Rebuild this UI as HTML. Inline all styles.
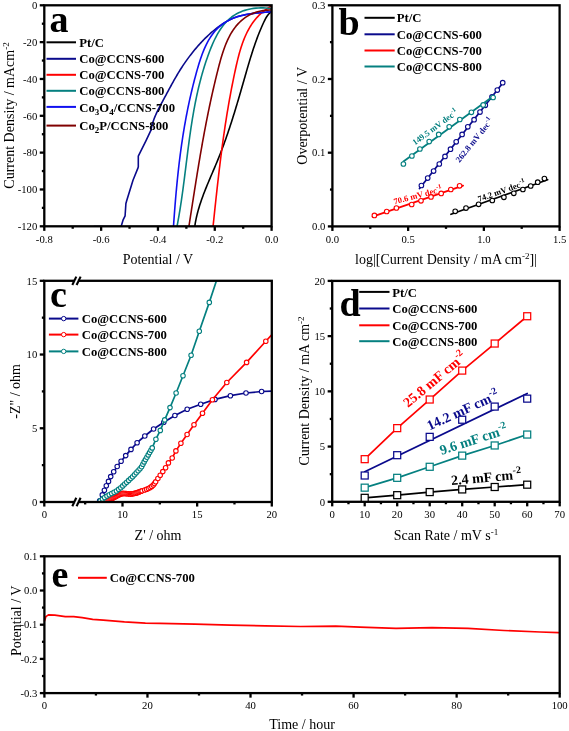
<!DOCTYPE html><html><head><meta charset="utf-8"><style>html,body{margin:0;padding:0;background:#fff;}svg{display:block;will-change:transform;}text{font-family:"Liberation Serif",serif;}</style></head><body>
<svg width="569" height="731" viewBox="0 0 569 731">
<rect width="569" height="731" fill="#fff"/>
<clipPath id="ca"><rect x="44.3" y="5.3" width="227.3" height="221"/></clipPath>
<g clip-path="url(#ca)">
<polyline points="94,226.3 121.3,226.3" fill="none" stroke="#0a0a8c" stroke-width="1.2" stroke-linejoin="round" stroke-linecap="round"/>
<polyline points="194.55,227.98 194.82,226.04 195.12,224.12 195.45,222.21 195.81,220.3 196.2,218.4 196.62,216.51 197.07,214.63 197.55,212.75 198.05,210.89 198.57,209.02 199.12,207.17 199.69,205.32 200.29,203.48 200.9,201.64 201.53,199.81 202.18,197.98 202.84,196.16 203.52,194.34 204.22,192.52 204.92,190.71 205.64,188.9 206.37,187.1 207.1,185.3 207.85,183.49 208.6,181.7 209.36,179.9 210.12,178.1 210.88,176.31 211.65,174.52 212.42,172.72 213.18,170.93 213.95,169.14 214.71,167.34 215.47,165.55 216.22,163.75 216.97,161.95 217.71,160.16 218.44,158.35 219.16,156.55 219.88,154.75 220.58,152.94 221.28,151.13 221.97,149.32 222.65,147.5 223.33,145.69 223.99,143.87 224.65,142.05 225.31,140.23 225.95,138.4 226.59,136.58 227.23,134.75 227.85,132.92 228.47,131.08 229.09,129.25 229.7,127.41 230.3,125.58 230.9,123.74 231.5,121.9 232.09,120.05 232.67,118.21 233.25,116.36 233.83,114.51 234.41,112.66 234.97,110.81 235.54,108.95 236.1,107.1 236.66,105.24 237.22,103.38 237.77,101.52 238.33,99.66 238.87,97.79 239.42,95.92 239.97,94.06 240.51,92.19 241.05,90.32 241.59,88.44 242.13,86.57 242.67,84.69 243.21,82.82 243.75,80.94 244.29,79.06 244.83,77.17 245.36,75.29 245.9,73.41 246.45,71.52 246.99,69.64 247.54,67.76 248.09,65.88 248.64,64 249.2,62.12 249.76,60.25 250.33,58.38 250.91,56.51 251.49,54.65 252.08,52.79 252.68,50.93 253.28,49.08 253.9,47.24 254.52,45.4 255.16,43.57 255.8,41.74 256.46,39.93 257.12,38.12 257.8,36.32 258.5,34.52 259.2,32.74 259.92,30.97 260.66,29.2 261.41,27.45 262.17,25.71 262.95,23.98 263.75,22.26 264.57,20.55 265.42,18.87 266.34,17.25 267.36,15.71 268.5,14.27 269.81,12.97 271.3,11.82" fill="none" stroke="#000" stroke-width="1.6" stroke-linejoin="round" stroke-linecap="round"/>
<polyline points="121.2,228 121.2,226.3 123,220.2 125.1,215.8 125.9,203.5 126.9,200 133,180.2 137.8,168.4 138.3,166.7 138.3,156.2 139.8,153.2 145.8,141.1 151.1,129.8" fill="none" stroke="#0a0a8c" stroke-width="1.6" stroke-linejoin="round" stroke-linecap="round"/>
<polyline points="151.06,129.79 151.34,128.27 151.66,126.78 152.02,125.29 152.42,123.82 152.86,122.36 153.34,120.91 153.85,119.48 154.4,118.05 154.97,116.63 155.56,115.22 156.19,113.83 156.83,112.44 157.49,111.05 158.17,109.68 158.86,108.3 159.57,106.94 160.29,105.58 161.01,104.22 161.74,102.87 162.47,101.53 163.2,100.18 163.93,98.84 164.66,97.49 165.38,96.15 166.1,94.82 166.82,93.48 167.53,92.14 168.25,90.81 168.97,89.48 169.68,88.15 170.4,86.82 171.13,85.5 171.85,84.18 172.58,82.85 173.31,81.54 174.05,80.22 174.8,78.91 175.55,77.6 176.31,76.29 177.07,74.98 177.85,73.68 178.64,72.38 179.43,71.09 180.24,69.79 181.06,68.5 181.89,67.22 182.73,65.93 183.58,64.66 184.45,63.38 185.32,62.12 186.21,60.85 187.1,59.6 188.01,58.35 188.93,57.1 189.86,55.87 190.8,54.64 191.75,53.42 192.71,52.2 193.68,51 194.66,49.81 195.66,48.62 196.66,47.44 197.67,46.28 198.7,45.12 199.73,43.98 200.77,42.85 201.83,41.72 202.89,40.62 203.96,39.52 205.05,38.43 206.14,37.36 207.24,36.31 208.35,35.26 209.48,34.23 210.61,33.22 211.75,32.22 212.9,31.24 214.06,30.27 215.23,29.32 216.41,28.38 217.6,27.46 218.8,26.56 220,25.69 221.23,24.83 222.46,23.99 223.71,23.18 224.97,22.4 226.25,21.65 227.54,20.92 228.86,20.23 230.19,19.56 231.54,18.94 232.91,18.34 234.3,17.79 235.72,17.27 237.15,16.79 238.61,16.35 240.08,15.94 241.56,15.56 243.06,15.22 244.57,14.89 246.09,14.59 247.62,14.32 249.15,14.06 250.69,13.82 252.23,13.6 253.77,13.4 255.31,13.21 256.85,13.03 258.38,12.87 259.92,12.71 261.45,12.57 262.97,12.43 264.49,12.31 266,12.19 267.5,12.07 269,11.96 270.48,11.85 271.95,11.75" fill="none" stroke="#0a0a8c" stroke-width="1.6" stroke-linejoin="round" stroke-linecap="round"/>
<polyline points="212.89,228.03 213.1,226.04 213.3,224.04 213.51,222.05 213.72,220.06 213.93,218.07 214.14,216.08 214.35,214.1 214.56,212.11 214.77,210.13 214.98,208.15 215.19,206.17 215.41,204.19 215.62,202.21 215.83,200.23 216.04,198.26 216.26,196.28 216.48,194.31 216.69,192.34 216.91,190.37 217.13,188.4 217.35,186.43 217.57,184.46 217.79,182.49 218.02,180.52 218.24,178.56 218.47,176.59 218.7,174.63 218.93,172.67 219.16,170.7 219.39,168.74 219.63,166.78 219.87,164.82 220.11,162.86 220.35,160.9 220.6,158.94 220.84,156.98 221.09,155.02 221.34,153.06 221.6,151.11 221.86,149.15 222.12,147.19 222.38,145.23 222.64,143.28 222.91,141.32 223.18,139.37 223.46,137.41 223.74,135.45 224.02,133.5 224.3,131.54 224.59,129.59 224.88,127.63 225.17,125.67 225.47,123.72 225.77,121.76 226.08,119.8 226.39,117.85 226.7,115.89 227.02,113.93 227.34,111.97 227.67,110.02 228,108.06 228.33,106.1 228.67,104.14 229.01,102.18 229.36,100.22 229.71,98.26 230.07,96.29 230.43,94.33 230.79,92.37 231.17,90.41 231.54,88.44 231.92,86.48 232.31,84.51 232.7,82.54 233.1,80.57 233.5,78.61 233.9,76.64 234.32,74.66 234.74,72.69 235.16,70.72 235.59,68.75 236.02,66.77 236.47,64.8 236.92,62.83 237.39,60.86 237.87,58.9 238.36,56.94 238.87,55 239.4,53.06 239.95,51.13 240.52,49.21 241.11,47.31 241.73,45.42 242.37,43.55 243.04,41.69 243.74,39.86 244.48,38.04 245.24,36.24 246.04,34.47 246.87,32.72 247.74,31 248.66,29.3 249.61,27.63 250.6,25.99 251.64,24.38 252.72,22.8 253.85,21.26 255.03,19.75 256.26,18.27 257.55,16.84 258.88,15.44 260.27,14.08 261.72,12.77 263.23,11.5 264.8,10.27 266.42,9.08 268.12,7.95 269.87,6.86 271.7,5.82" fill="none" stroke="#ff0000" stroke-width="1.6" stroke-linejoin="round" stroke-linecap="round"/>
<polyline points="176.71,227.9 177.14,225.73 177.55,223.57 177.95,221.4 178.35,219.22 178.73,217.05 179.11,214.87 179.47,212.69 179.83,210.51 180.18,208.33 180.53,206.14 180.86,203.96 181.19,201.77 181.51,199.58 181.83,197.39 182.14,195.19 182.45,193 182.75,190.8 183.05,188.61 183.34,186.41 183.63,184.21 183.92,182.01 184.2,179.81 184.48,177.61 184.76,175.41 185.04,173.2 185.31,171 185.59,168.8 185.86,166.59 186.14,164.39 186.41,162.19 186.69,159.98 186.96,157.78 187.24,155.58 187.52,153.37 187.8,151.17 188.08,148.97 188.37,146.76 188.66,144.56 188.95,142.36 189.24,140.16 189.55,137.96 189.85,135.76 190.16,133.56 190.48,131.36 190.8,129.17 191.13,126.97 191.46,124.78 191.81,122.59 192.16,120.4 192.51,118.21 192.88,116.02 193.25,113.84 193.64,111.65 194.03,109.47 194.43,107.29 194.84,105.11 195.26,102.94 195.7,100.76 196.14,98.59 196.6,96.42 197.06,94.26 197.55,92.09 198.04,89.93 198.54,87.78 199.06,85.62 199.6,83.47 200.14,81.32 200.71,79.17 201.28,77.03 201.88,74.89 202.48,72.75 203.11,70.62 203.75,68.49 204.41,66.36 205.08,64.24 205.77,62.12 206.48,60 207.21,57.89 207.96,55.79 208.73,53.68 209.52,51.58 210.32,49.49 211.15,47.41 212.01,45.34 212.9,43.29 213.81,41.26 214.77,39.25 215.75,37.28 216.78,35.34 217.85,33.43 218.96,31.57 220.12,29.75 221.33,27.98 222.59,26.26 223.91,24.59 225.28,22.99 226.72,21.45 228.21,19.98 229.77,18.59 231.4,17.26 233.1,16.02 234.87,14.86 236.71,13.78 238.63,12.8 240.61,11.9 242.65,11.09 244.75,10.37 246.9,9.74 249.11,9.2 251.35,8.75 253.64,8.39 255.96,8.13 258.31,7.96 260.69,7.88 263.09,7.9 265.51,8.01 267.94,8.22 270.38,8.53 272.83,8.93" fill="none" stroke="#058080" stroke-width="1.6" stroke-linejoin="round" stroke-linecap="round"/>
<polyline points="173.38,228.05 173.53,225.8 173.69,223.55 173.85,221.31 174.01,219.07 174.17,216.82 174.33,214.59 174.5,212.35 174.67,210.11 174.85,207.88 175.02,205.65 175.2,203.42 175.39,201.19 175.57,198.96 175.76,196.73 175.96,194.51 176.15,192.29 176.36,190.07 176.56,187.85 176.77,185.63 176.99,183.41 177.21,181.2 177.43,178.98 177.66,176.77 177.89,174.56 178.13,172.35 178.37,170.14 178.62,167.93 178.87,165.72 179.13,163.52 179.4,161.31 179.67,159.11 179.95,156.91 180.23,154.71 180.52,152.51 180.81,150.31 181.11,148.11 181.42,145.91 181.74,143.72 182.06,141.52 182.39,139.33 182.72,137.13 183.07,134.94 183.42,132.75 183.77,130.56 184.14,128.37 184.51,126.18 184.89,123.99 185.28,121.8 185.68,119.61 186.08,117.42 186.49,115.24 186.92,113.05 187.35,110.86 187.78,108.68 188.23,106.49 188.69,104.31 189.15,102.12 189.63,99.94 190.11,97.76 190.61,95.57 191.11,93.39 191.62,91.21 192.15,89.02 192.68,86.84 193.22,84.66 193.78,82.48 194.34,80.3 194.92,78.11 195.5,75.93 196.1,73.75 196.7,71.57 197.32,69.39 197.95,67.21 198.59,65.03 199.26,62.86 199.94,60.69 200.65,58.54 201.38,56.41 202.15,54.29 202.95,52.19 203.78,50.12 204.66,48.07 205.57,46.05 206.54,44.06 207.55,42.11 208.62,40.2 209.74,38.32 210.92,36.49 212.16,34.71 213.47,32.97 214.84,31.3 216.29,29.69 217.81,28.15 219.4,26.68 221.07,25.3 222.8,23.99 224.6,22.76 226.45,21.61 228.37,20.53 230.34,19.54 232.35,18.63 234.42,17.79 236.52,17.04 238.67,16.36 240.84,15.75 243.05,15.21 245.27,14.73 247.52,14.3 249.77,13.92 252.04,13.59 254.3,13.3 256.57,13.04 258.82,12.81 261.06,12.61 263.29,12.43 265.49,12.25 267.66,12.09 269.8,11.93 271.9,11.77" fill="none" stroke="#1010f0" stroke-width="1.6" stroke-linejoin="round" stroke-linecap="round"/>
<polyline points="188.63,228.07 188.97,225.96 189.3,223.86 189.63,221.75 189.96,219.65 190.28,217.55 190.61,215.46 190.94,213.36 191.27,211.27 191.59,209.19 191.92,207.1 192.24,205.02 192.57,202.93 192.89,200.85 193.22,198.78 193.54,196.7 193.87,194.63 194.19,192.56 194.52,190.49 194.85,188.42 195.17,186.35 195.5,184.28 195.83,182.22 196.16,180.16 196.49,178.1 196.82,176.04 197.16,173.98 197.49,171.92 197.83,169.86 198.17,167.81 198.51,165.75 198.85,163.7 199.19,161.65 199.53,159.6 199.88,157.54 200.23,155.49 200.58,153.44 200.93,151.39 201.29,149.34 201.65,147.29 202.01,145.25 202.37,143.2 202.74,141.15 203.11,139.1 203.48,137.05 203.86,135 204.24,132.95 204.62,130.9 205.01,128.86 205.4,126.81 205.79,124.76 206.19,122.71 206.59,120.65 206.99,118.6 207.4,116.55 207.81,114.5 208.23,112.44 208.65,110.39 209.08,108.33 209.51,106.27 209.94,104.22 210.38,102.16 210.83,100.1 211.27,98.04 211.73,95.97 212.19,93.91 212.65,91.84 213.12,89.77 213.6,87.71 214.08,85.63 214.57,83.56 215.06,81.49 215.56,79.41 216.06,77.33 216.57,75.25 217.09,73.17 217.61,71.09 218.14,69 218.68,66.91 219.22,64.82 219.78,62.74 220.35,60.66 220.94,58.59 221.55,56.53 222.17,54.48 222.82,52.45 223.49,50.44 224.19,48.44 224.92,46.47 225.68,44.52 226.47,42.59 227.3,40.7 228.17,38.84 229.07,37.01 230.02,35.22 231.02,33.46 232.05,31.75 233.14,30.08 234.28,28.46 235.47,26.88 236.72,25.35 238.02,23.88 239.38,22.46 240.8,21.1 242.28,19.81 243.83,18.58 245.44,17.41 247.11,16.33 248.85,15.31 250.67,14.38 252.55,13.52 254.5,12.76 256.52,12.08 258.62,11.49 260.8,10.99 263.05,10.59 265.38,10.3 267.8,10.11 270.29,10.02 272.87,10.05" fill="none" stroke="#800000" stroke-width="1.6" stroke-linejoin="round" stroke-linecap="round"/>
</g>
<rect x="44.3" y="5.3" width="227.3" height="221" fill="none" stroke="#000" stroke-width="2.3"/>
<line x1="44.3" y1="226.3" x2="44.3" y2="230.85" stroke="#000" stroke-width="2.3"/>
<text x="44.3" y="242.6" font-size="10.7" text-anchor="middle" font-weight="normal" fill="#000">-0.8</text>
<line x1="72.71" y1="226.3" x2="72.71" y2="228.75" stroke="#000" stroke-width="2.3"/>
<line x1="101.13" y1="226.3" x2="101.13" y2="230.85" stroke="#000" stroke-width="2.3"/>
<text x="101.13" y="242.6" font-size="10.7" text-anchor="middle" font-weight="normal" fill="#000">-0.6</text>
<line x1="129.54" y1="226.3" x2="129.54" y2="228.75" stroke="#000" stroke-width="2.3"/>
<line x1="157.95" y1="226.3" x2="157.95" y2="230.85" stroke="#000" stroke-width="2.3"/>
<text x="157.95" y="242.6" font-size="10.7" text-anchor="middle" font-weight="normal" fill="#000">-0.4</text>
<line x1="186.36" y1="226.3" x2="186.36" y2="228.75" stroke="#000" stroke-width="2.3"/>
<line x1="214.78" y1="226.3" x2="214.78" y2="230.85" stroke="#000" stroke-width="2.3"/>
<text x="214.78" y="242.6" font-size="10.7" text-anchor="middle" font-weight="normal" fill="#000">-0.2</text>
<line x1="243.19" y1="226.3" x2="243.19" y2="228.75" stroke="#000" stroke-width="2.3"/>
<line x1="271.6" y1="226.3" x2="271.6" y2="230.85" stroke="#000" stroke-width="2.3"/>
<text x="271.6" y="242.6" font-size="10.7" text-anchor="middle" font-weight="normal" fill="#000">0.0</text>
<line x1="44.3" y1="5.3" x2="39.75" y2="5.3" stroke="#000" stroke-width="2.3"/>
<text x="37.3" y="9" font-size="10.7" text-anchor="end" font-weight="normal" fill="#000">0</text>
<line x1="44.3" y1="23.72" x2="41.85" y2="23.72" stroke="#000" stroke-width="2.3"/>
<line x1="44.3" y1="42.13" x2="39.75" y2="42.13" stroke="#000" stroke-width="2.3"/>
<text x="37.3" y="45.83" font-size="10.7" text-anchor="end" font-weight="normal" fill="#000">-20</text>
<line x1="44.3" y1="60.55" x2="41.85" y2="60.55" stroke="#000" stroke-width="2.3"/>
<line x1="44.3" y1="78.97" x2="39.75" y2="78.97" stroke="#000" stroke-width="2.3"/>
<text x="37.3" y="82.67" font-size="10.7" text-anchor="end" font-weight="normal" fill="#000">-40</text>
<line x1="44.3" y1="97.38" x2="41.85" y2="97.38" stroke="#000" stroke-width="2.3"/>
<line x1="44.3" y1="115.8" x2="39.75" y2="115.8" stroke="#000" stroke-width="2.3"/>
<text x="37.3" y="119.5" font-size="10.7" text-anchor="end" font-weight="normal" fill="#000">-60</text>
<line x1="44.3" y1="134.22" x2="41.85" y2="134.22" stroke="#000" stroke-width="2.3"/>
<line x1="44.3" y1="152.63" x2="39.75" y2="152.63" stroke="#000" stroke-width="2.3"/>
<text x="37.3" y="156.33" font-size="10.7" text-anchor="end" font-weight="normal" fill="#000">-80</text>
<line x1="44.3" y1="171.05" x2="41.85" y2="171.05" stroke="#000" stroke-width="2.3"/>
<line x1="44.3" y1="189.47" x2="39.75" y2="189.47" stroke="#000" stroke-width="2.3"/>
<text x="37.3" y="193.17" font-size="10.7" text-anchor="end" font-weight="normal" fill="#000">-100</text>
<line x1="44.3" y1="207.88" x2="41.85" y2="207.88" stroke="#000" stroke-width="2.3"/>
<line x1="44.3" y1="226.3" x2="39.75" y2="226.3" stroke="#000" stroke-width="2.3"/>
<text x="37.3" y="230" font-size="10.7" text-anchor="end" font-weight="normal" fill="#000">-120</text>
<text x="157.95" y="264.4" font-size="14" text-anchor="middle" font-weight="normal" fill="#000">Potential / V</text>
<text transform="translate(13.6,115.5) rotate(-90)" font-size="14" text-anchor="middle">Current Density / mAcm<tspan font-size="9" dy="-5">-2</tspan></text>
<text x="49.5" y="31.5" font-size="38" text-anchor="start" font-weight="bold" fill="#000">a</text>
<line x1="46.5" y1="42.3" x2="76" y2="42.3" stroke="#000" stroke-width="2"/>
<text x="79.3" y="46.9" font-size="12.7" text-anchor="start" font-weight="bold" fill="#000">Pt/C</text>
<line x1="46.5" y1="58.8" x2="76" y2="58.8" stroke="#0a0a8c" stroke-width="2"/>
<text x="79.3" y="63.4" font-size="12.7" text-anchor="start" font-weight="bold" fill="#000">Co@CCNS-600</text>
<line x1="46.5" y1="74.8" x2="76" y2="74.8" stroke="#ff0000" stroke-width="2"/>
<text x="79.3" y="79.4" font-size="12.7" text-anchor="start" font-weight="bold" fill="#000">Co@CCNS-700</text>
<line x1="46.5" y1="90.8" x2="76" y2="90.8" stroke="#058080" stroke-width="2"/>
<text x="79.3" y="95.4" font-size="12.7" text-anchor="start" font-weight="bold" fill="#000">Co@CCNS-800</text>
<line x1="46.5" y1="106.9" x2="76" y2="106.9" stroke="#1010f0" stroke-width="2"/>
<text x="79.3" y="111.5" font-size="12.7" text-anchor="start" font-weight="bold" fill="#000">Co<tspan font-size="9" dy="3">3</tspan><tspan dy="-3">O</tspan><tspan font-size="9" dy="3">4</tspan><tspan dy="-3">/CCNS-700</tspan></text>
<line x1="46.5" y1="125.6" x2="76" y2="125.6" stroke="#800000" stroke-width="2"/>
<text x="79.3" y="130.2" font-size="12.7" text-anchor="start" font-weight="bold" fill="#000">Co<tspan font-size="9" dy="3">2</tspan><tspan dy="-3">P/CCNS-800</tspan></text>
<rect x="332.4" y="5.3" width="227.2" height="221.1" fill="none" stroke="#000" stroke-width="2.3"/>
<line x1="332.4" y1="226.4" x2="332.4" y2="230.95" stroke="#000" stroke-width="2.3"/>
<text x="332.4" y="242.7" font-size="10.7" text-anchor="middle" font-weight="normal" fill="#000">0.0</text>
<line x1="370.27" y1="226.4" x2="370.27" y2="228.85" stroke="#000" stroke-width="2.3"/>
<line x1="408.13" y1="226.4" x2="408.13" y2="230.95" stroke="#000" stroke-width="2.3"/>
<text x="408.13" y="242.7" font-size="10.7" text-anchor="middle" font-weight="normal" fill="#000">0.5</text>
<line x1="446" y1="226.4" x2="446" y2="228.85" stroke="#000" stroke-width="2.3"/>
<line x1="483.87" y1="226.4" x2="483.87" y2="230.95" stroke="#000" stroke-width="2.3"/>
<text x="483.87" y="242.7" font-size="10.7" text-anchor="middle" font-weight="normal" fill="#000">1.0</text>
<line x1="521.73" y1="226.4" x2="521.73" y2="228.85" stroke="#000" stroke-width="2.3"/>
<line x1="559.6" y1="226.4" x2="559.6" y2="230.95" stroke="#000" stroke-width="2.3"/>
<text x="559.6" y="242.7" font-size="10.7" text-anchor="middle" font-weight="normal" fill="#000">1.5</text>
<line x1="332.4" y1="226.4" x2="327.85" y2="226.4" stroke="#000" stroke-width="2.3"/>
<text x="325.4" y="230.1" font-size="10.7" text-anchor="end" font-weight="normal" fill="#000">0.0</text>
<line x1="332.4" y1="189.55" x2="329.95" y2="189.55" stroke="#000" stroke-width="2.3"/>
<line x1="332.4" y1="152.7" x2="327.85" y2="152.7" stroke="#000" stroke-width="2.3"/>
<text x="325.4" y="156.4" font-size="10.7" text-anchor="end" font-weight="normal" fill="#000">0.1</text>
<line x1="332.4" y1="115.85" x2="329.95" y2="115.85" stroke="#000" stroke-width="2.3"/>
<line x1="332.4" y1="79" x2="327.85" y2="79" stroke="#000" stroke-width="2.3"/>
<text x="325.4" y="82.7" font-size="10.7" text-anchor="end" font-weight="normal" fill="#000">0.2</text>
<line x1="332.4" y1="42.15" x2="329.95" y2="42.15" stroke="#000" stroke-width="2.3"/>
<line x1="332.4" y1="5.3" x2="327.85" y2="5.3" stroke="#000" stroke-width="2.3"/>
<text x="325.4" y="9" font-size="10.7" text-anchor="end" font-weight="normal" fill="#000">0.3</text>
<text x="446" y="264.4" font-size="14" text-anchor="middle" font-weight="normal" fill="#000">log|[Current Density / mA cm<tspan font-size="9" dy="-5">-2</tspan><tspan dy="5">]|</tspan></text>
<text transform="translate(306.8,115.85) rotate(-90)" font-size="14" text-anchor="middle">Overpotential / V</text>
<text x="338.5" y="35" font-size="38" text-anchor="start" font-weight="bold" fill="#000">b</text>
<polyline points="451,214.24 547.6,179.73" fill="none" stroke="#000" stroke-width="1.8" stroke-linejoin="round" stroke-linecap="round"/>
<circle cx="455.2" cy="211.3" r="2.3" fill="#fff" stroke="#000" stroke-width="1.1"/>
<circle cx="466" cy="208.1" r="2.3" fill="#fff" stroke="#000" stroke-width="1.1"/>
<circle cx="478.6" cy="204.3" r="2.3" fill="#fff" stroke="#000" stroke-width="1.1"/>
<circle cx="492.3" cy="200.5" r="2.3" fill="#fff" stroke="#000" stroke-width="1.1"/>
<circle cx="503.9" cy="197.3" r="2.3" fill="#fff" stroke="#000" stroke-width="1.1"/>
<circle cx="513.8" cy="193.3" r="2.3" fill="#fff" stroke="#000" stroke-width="1.1"/>
<circle cx="522.9" cy="189.5" r="2.3" fill="#fff" stroke="#000" stroke-width="1.1"/>
<circle cx="530.7" cy="186" r="2.3" fill="#fff" stroke="#000" stroke-width="1.1"/>
<circle cx="537.7" cy="182.2" r="2.3" fill="#fff" stroke="#000" stroke-width="1.1"/>
<circle cx="544.4" cy="178.6" r="2.3" fill="#fff" stroke="#000" stroke-width="1.1"/>
<polyline points="419.5,188.53 503,82.77" fill="none" stroke="#0a0a8c" stroke-width="1.8" stroke-linejoin="round" stroke-linecap="round"/>
<circle cx="421.4" cy="185.5" r="2.3" fill="#fff" stroke="#0a0a8c" stroke-width="1.1"/>
<circle cx="427.7" cy="178.1" r="2.3" fill="#fff" stroke="#0a0a8c" stroke-width="1.1"/>
<circle cx="433.6" cy="171.1" r="2.3" fill="#fff" stroke="#0a0a8c" stroke-width="1.1"/>
<circle cx="439.3" cy="164" r="2.3" fill="#fff" stroke="#0a0a8c" stroke-width="1.1"/>
<circle cx="445" cy="156.4" r="2.3" fill="#fff" stroke="#0a0a8c" stroke-width="1.1"/>
<circle cx="450.5" cy="149.2" r="2.3" fill="#fff" stroke="#0a0a8c" stroke-width="1.1"/>
<circle cx="456.2" cy="141.8" r="2.3" fill="#fff" stroke="#0a0a8c" stroke-width="1.1"/>
<circle cx="462.1" cy="134.4" r="2.3" fill="#fff" stroke="#0a0a8c" stroke-width="1.1"/>
<circle cx="467.8" cy="126.8" r="2.3" fill="#fff" stroke="#0a0a8c" stroke-width="1.1"/>
<circle cx="474.1" cy="119.7" r="2.3" fill="#fff" stroke="#0a0a8c" stroke-width="1.1"/>
<circle cx="480" cy="112.1" r="2.3" fill="#fff" stroke="#0a0a8c" stroke-width="1.1"/>
<circle cx="485.3" cy="105.3" r="2.3" fill="#fff" stroke="#0a0a8c" stroke-width="1.1"/>
<circle cx="492" cy="96.9" r="2.3" fill="#fff" stroke="#0a0a8c" stroke-width="1.1"/>
<circle cx="497.3" cy="90.1" r="2.3" fill="#fff" stroke="#0a0a8c" stroke-width="1.1"/>
<circle cx="502.7" cy="82.7" r="2.3" fill="#fff" stroke="#0a0a8c" stroke-width="1.1"/>
<polyline points="372.6,216.63 463.1,185.59" fill="none" stroke="#ff0000" stroke-width="1.8" stroke-linejoin="round" stroke-linecap="round"/>
<circle cx="374.4" cy="215.4" r="2.3" fill="#fff" stroke="#ff0000" stroke-width="1.1"/>
<circle cx="386.7" cy="211.5" r="2.3" fill="#fff" stroke="#ff0000" stroke-width="1.1"/>
<circle cx="396.4" cy="208" r="2.3" fill="#fff" stroke="#ff0000" stroke-width="1.1"/>
<circle cx="411.7" cy="204.5" r="2.3" fill="#fff" stroke="#ff0000" stroke-width="1.1"/>
<circle cx="421" cy="200.8" r="2.3" fill="#fff" stroke="#ff0000" stroke-width="1.1"/>
<circle cx="431" cy="196.9" r="2.3" fill="#fff" stroke="#ff0000" stroke-width="1.1"/>
<circle cx="441.2" cy="193.4" r="2.3" fill="#fff" stroke="#ff0000" stroke-width="1.1"/>
<circle cx="450.8" cy="189.5" r="2.3" fill="#fff" stroke="#ff0000" stroke-width="1.1"/>
<circle cx="459.6" cy="185.8" r="2.3" fill="#fff" stroke="#ff0000" stroke-width="1.1"/>
<polyline points="403.4,161.5 493.9,95.82" fill="none" stroke="#058080" stroke-width="1.8" stroke-linejoin="round" stroke-linecap="round"/>
<circle cx="403.4" cy="164" r="2.3" fill="#fff" stroke="#058080" stroke-width="1.1"/>
<circle cx="411.9" cy="156" r="2.3" fill="#fff" stroke="#058080" stroke-width="1.1"/>
<circle cx="419.9" cy="149" r="2.3" fill="#fff" stroke="#058080" stroke-width="1.1"/>
<circle cx="429.2" cy="141.6" r="2.3" fill="#fff" stroke="#058080" stroke-width="1.1"/>
<circle cx="438.7" cy="134.4" r="2.3" fill="#fff" stroke="#058080" stroke-width="1.1"/>
<circle cx="449.2" cy="126.8" r="2.3" fill="#fff" stroke="#058080" stroke-width="1.1"/>
<circle cx="459.8" cy="119.5" r="2.3" fill="#fff" stroke="#058080" stroke-width="1.1"/>
<circle cx="471.4" cy="112.3" r="2.3" fill="#fff" stroke="#058080" stroke-width="1.1"/>
<circle cx="483.2" cy="104.9" r="2.3" fill="#fff" stroke="#058080" stroke-width="1.1"/>
<circle cx="493.1" cy="97.5" r="2.3" fill="#fff" stroke="#058080" stroke-width="1.1"/>
<text transform="translate(415,145.5) rotate(-36.5)" font-size="8.5" font-weight="bold" fill="#058080">149.5 mV dec<tspan font-size="6.5" dy="-3.8">-1</tspan></text>
<text transform="translate(459.5,163) rotate(-51)" font-size="8.5" font-weight="bold" fill="#0a0a8c">262.8 mV dec<tspan font-size="6.5" dy="-3.8">-1</tspan></text>
<text transform="translate(394.5,204.5) rotate(-15)" font-size="8.5" font-weight="bold" fill="#ff0000">70.6 mV dec<tspan font-size="6.5" dy="-3.8">-1</tspan></text>
<text transform="translate(479,202) rotate(-19.5)" font-size="8.5" font-weight="bold" fill="#000">74.2 mV dec<tspan font-size="6.5" dy="-3.8">-1</tspan></text>
<line x1="364.5" y1="17.8" x2="394.7" y2="17.8" stroke="#000" stroke-width="2"/>
<text x="396.8" y="22.4" font-size="12.7" text-anchor="start" font-weight="bold" fill="#000">Pt/C</text>
<line x1="364.5" y1="34.3" x2="394.7" y2="34.3" stroke="#0a0a8c" stroke-width="2"/>
<text x="396.8" y="38.9" font-size="12.7" text-anchor="start" font-weight="bold" fill="#000">Co@CCNS-600</text>
<line x1="364.5" y1="50.5" x2="394.7" y2="50.5" stroke="#ff0000" stroke-width="2"/>
<text x="396.8" y="55.1" font-size="12.7" text-anchor="start" font-weight="bold" fill="#000">Co@CCNS-700</text>
<line x1="364.5" y1="66.5" x2="394.7" y2="66.5" stroke="#058080" stroke-width="2"/>
<text x="396.8" y="71.1" font-size="12.7" text-anchor="start" font-weight="bold" fill="#000">Co@CCNS-800</text>
<clipPath id="cc"><rect x="44.3" y="280.8" width="227.5" height="221.2"/></clipPath>
<g clip-path="url(#cc)">
<polyline points="99.7,500.7 102.3,494.9 104.4,490.2 106.3,485.8 108.5,481.4 110.7,476.6 113.7,471.7 117.2,466.5 121.1,461.2 125.7,455.6 131,449.4 137.1,442.7 144.8,436 153.6,429 163.8,422.2 174.9,415.5 187.2,409.3 200.7,404.2 215,399.4 230.4,395.7 246,393 261.6,391.5 276,391" fill="none" stroke="#0a0a8c" stroke-width="1.7" stroke-linejoin="round" stroke-linecap="round"/>
<circle cx="99.7" cy="500.7" r="2.25" fill="#fff" stroke="#0a0a8c" stroke-width="1.1"/>
<circle cx="102.3" cy="494.9" r="2.25" fill="#fff" stroke="#0a0a8c" stroke-width="1.1"/>
<circle cx="104.4" cy="490.2" r="2.25" fill="#fff" stroke="#0a0a8c" stroke-width="1.1"/>
<circle cx="106.3" cy="485.8" r="2.25" fill="#fff" stroke="#0a0a8c" stroke-width="1.1"/>
<circle cx="108.5" cy="481.4" r="2.25" fill="#fff" stroke="#0a0a8c" stroke-width="1.1"/>
<circle cx="110.7" cy="476.6" r="2.25" fill="#fff" stroke="#0a0a8c" stroke-width="1.1"/>
<circle cx="113.7" cy="471.7" r="2.25" fill="#fff" stroke="#0a0a8c" stroke-width="1.1"/>
<circle cx="117.2" cy="466.5" r="2.25" fill="#fff" stroke="#0a0a8c" stroke-width="1.1"/>
<circle cx="121.1" cy="461.2" r="2.25" fill="#fff" stroke="#0a0a8c" stroke-width="1.1"/>
<circle cx="125.7" cy="455.6" r="2.25" fill="#fff" stroke="#0a0a8c" stroke-width="1.1"/>
<circle cx="131" cy="449.4" r="2.25" fill="#fff" stroke="#0a0a8c" stroke-width="1.1"/>
<circle cx="137.1" cy="442.7" r="2.25" fill="#fff" stroke="#0a0a8c" stroke-width="1.1"/>
<circle cx="144.8" cy="436" r="2.25" fill="#fff" stroke="#0a0a8c" stroke-width="1.1"/>
<circle cx="153.6" cy="429" r="2.25" fill="#fff" stroke="#0a0a8c" stroke-width="1.1"/>
<circle cx="163.8" cy="422.2" r="2.25" fill="#fff" stroke="#0a0a8c" stroke-width="1.1"/>
<circle cx="174.9" cy="415.5" r="2.25" fill="#fff" stroke="#0a0a8c" stroke-width="1.1"/>
<circle cx="187.2" cy="409.3" r="2.25" fill="#fff" stroke="#0a0a8c" stroke-width="1.1"/>
<circle cx="200.7" cy="404.2" r="2.25" fill="#fff" stroke="#0a0a8c" stroke-width="1.1"/>
<circle cx="215" cy="399.4" r="2.25" fill="#fff" stroke="#0a0a8c" stroke-width="1.1"/>
<circle cx="230.4" cy="395.7" r="2.25" fill="#fff" stroke="#0a0a8c" stroke-width="1.1"/>
<circle cx="246" cy="393" r="2.25" fill="#fff" stroke="#0a0a8c" stroke-width="1.1"/>
<circle cx="261.6" cy="391.5" r="2.25" fill="#fff" stroke="#0a0a8c" stroke-width="1.1"/>
<polyline points="108.1,500.6 109.07,500.09 110.05,499.58 111.02,499.06 111.99,498.55 112.97,498.04 113.94,497.52 114.89,496.98 115.85,496.43 116.8,495.88 117.76,495.34 118.76,494.9 119.79,494.5 120.81,494.1 121.84,493.7 122.88,493.42 123.98,493.48 125.08,493.55 126.17,493.62 127.27,493.74 128.36,493.86 129.45,493.98 130.55,494.09 131.63,493.91 132.72,493.72 133.8,493.54 134.89,493.36 135.96,493.14 136.99,492.76 138.02,492.37 139.06,491.99 140.09,491.61 141.12,491.22 142.15,490.84 144.69,489.96 146.59,489.31 148.44,488.59 150.14,487.53 151.78,486.39 153.3,485.1 154.48,483.48 155.66,481.86 157.9,478.5 160.2,475.2 162.8,471.6 165.6,467.8 168.4,462.9 172.2,458 175.9,450.9 180.9,443.2 187.1,434.5 194,424.7 202.5,413.2 212.4,399.7 226.8,382.5 246.6,362.4 265.8,341.3 276,330" fill="none" stroke="#ff0000" stroke-width="1.7" stroke-linejoin="round" stroke-linecap="round"/>
<circle cx="108.1" cy="500.6" r="2.25" fill="#fff" stroke="#ff0000" stroke-width="1.1"/>
<circle cx="109.07" cy="500.09" r="2.25" fill="#fff" stroke="#ff0000" stroke-width="1.1"/>
<circle cx="110.05" cy="499.58" r="2.25" fill="#fff" stroke="#ff0000" stroke-width="1.1"/>
<circle cx="111.02" cy="499.06" r="2.25" fill="#fff" stroke="#ff0000" stroke-width="1.1"/>
<circle cx="111.99" cy="498.55" r="2.25" fill="#fff" stroke="#ff0000" stroke-width="1.1"/>
<circle cx="112.97" cy="498.04" r="2.25" fill="#fff" stroke="#ff0000" stroke-width="1.1"/>
<circle cx="113.94" cy="497.52" r="2.25" fill="#fff" stroke="#ff0000" stroke-width="1.1"/>
<circle cx="114.89" cy="496.98" r="2.25" fill="#fff" stroke="#ff0000" stroke-width="1.1"/>
<circle cx="115.85" cy="496.43" r="2.25" fill="#fff" stroke="#ff0000" stroke-width="1.1"/>
<circle cx="116.8" cy="495.88" r="2.25" fill="#fff" stroke="#ff0000" stroke-width="1.1"/>
<circle cx="117.76" cy="495.34" r="2.25" fill="#fff" stroke="#ff0000" stroke-width="1.1"/>
<circle cx="118.76" cy="494.9" r="2.25" fill="#fff" stroke="#ff0000" stroke-width="1.1"/>
<circle cx="119.79" cy="494.5" r="2.25" fill="#fff" stroke="#ff0000" stroke-width="1.1"/>
<circle cx="120.81" cy="494.1" r="2.25" fill="#fff" stroke="#ff0000" stroke-width="1.1"/>
<circle cx="121.84" cy="493.7" r="2.25" fill="#fff" stroke="#ff0000" stroke-width="1.1"/>
<circle cx="122.88" cy="493.42" r="2.25" fill="#fff" stroke="#ff0000" stroke-width="1.1"/>
<circle cx="123.98" cy="493.48" r="2.25" fill="#fff" stroke="#ff0000" stroke-width="1.1"/>
<circle cx="125.08" cy="493.55" r="2.25" fill="#fff" stroke="#ff0000" stroke-width="1.1"/>
<circle cx="126.17" cy="493.62" r="2.25" fill="#fff" stroke="#ff0000" stroke-width="1.1"/>
<circle cx="127.27" cy="493.74" r="2.25" fill="#fff" stroke="#ff0000" stroke-width="1.1"/>
<circle cx="128.36" cy="493.86" r="2.25" fill="#fff" stroke="#ff0000" stroke-width="1.1"/>
<circle cx="129.45" cy="493.98" r="2.25" fill="#fff" stroke="#ff0000" stroke-width="1.1"/>
<circle cx="130.55" cy="494.09" r="2.25" fill="#fff" stroke="#ff0000" stroke-width="1.1"/>
<circle cx="131.63" cy="493.91" r="2.25" fill="#fff" stroke="#ff0000" stroke-width="1.1"/>
<circle cx="132.72" cy="493.72" r="2.25" fill="#fff" stroke="#ff0000" stroke-width="1.1"/>
<circle cx="133.8" cy="493.54" r="2.25" fill="#fff" stroke="#ff0000" stroke-width="1.1"/>
<circle cx="134.89" cy="493.36" r="2.25" fill="#fff" stroke="#ff0000" stroke-width="1.1"/>
<circle cx="135.96" cy="493.14" r="2.25" fill="#fff" stroke="#ff0000" stroke-width="1.1"/>
<circle cx="136.99" cy="492.76" r="2.25" fill="#fff" stroke="#ff0000" stroke-width="1.1"/>
<circle cx="138.02" cy="492.37" r="2.25" fill="#fff" stroke="#ff0000" stroke-width="1.1"/>
<circle cx="139.06" cy="491.99" r="2.25" fill="#fff" stroke="#ff0000" stroke-width="1.1"/>
<circle cx="140.09" cy="491.61" r="2.25" fill="#fff" stroke="#ff0000" stroke-width="1.1"/>
<circle cx="141.12" cy="491.22" r="2.25" fill="#fff" stroke="#ff0000" stroke-width="1.1"/>
<circle cx="142.15" cy="490.84" r="2.25" fill="#fff" stroke="#ff0000" stroke-width="1.1"/>
<circle cx="144.69" cy="489.96" r="2.25" fill="#fff" stroke="#ff0000" stroke-width="1.1"/>
<circle cx="146.59" cy="489.31" r="2.25" fill="#fff" stroke="#ff0000" stroke-width="1.1"/>
<circle cx="148.44" cy="488.59" r="2.25" fill="#fff" stroke="#ff0000" stroke-width="1.1"/>
<circle cx="150.14" cy="487.53" r="2.25" fill="#fff" stroke="#ff0000" stroke-width="1.1"/>
<circle cx="151.78" cy="486.39" r="2.25" fill="#fff" stroke="#ff0000" stroke-width="1.1"/>
<circle cx="153.3" cy="485.1" r="2.25" fill="#fff" stroke="#ff0000" stroke-width="1.1"/>
<circle cx="154.48" cy="483.48" r="2.25" fill="#fff" stroke="#ff0000" stroke-width="1.1"/>
<circle cx="155.66" cy="481.86" r="2.25" fill="#fff" stroke="#ff0000" stroke-width="1.1"/>
<circle cx="157.9" cy="478.5" r="2.25" fill="#fff" stroke="#ff0000" stroke-width="1.1"/>
<circle cx="160.2" cy="475.2" r="2.25" fill="#fff" stroke="#ff0000" stroke-width="1.1"/>
<circle cx="162.8" cy="471.6" r="2.25" fill="#fff" stroke="#ff0000" stroke-width="1.1"/>
<circle cx="165.6" cy="467.8" r="2.25" fill="#fff" stroke="#ff0000" stroke-width="1.1"/>
<circle cx="168.4" cy="462.9" r="2.25" fill="#fff" stroke="#ff0000" stroke-width="1.1"/>
<circle cx="172.2" cy="458" r="2.25" fill="#fff" stroke="#ff0000" stroke-width="1.1"/>
<circle cx="175.9" cy="450.9" r="2.25" fill="#fff" stroke="#ff0000" stroke-width="1.1"/>
<circle cx="180.9" cy="443.2" r="2.25" fill="#fff" stroke="#ff0000" stroke-width="1.1"/>
<circle cx="187.1" cy="434.5" r="2.25" fill="#fff" stroke="#ff0000" stroke-width="1.1"/>
<circle cx="194" cy="424.7" r="2.25" fill="#fff" stroke="#ff0000" stroke-width="1.1"/>
<circle cx="202.5" cy="413.2" r="2.25" fill="#fff" stroke="#ff0000" stroke-width="1.1"/>
<circle cx="212.4" cy="399.7" r="2.25" fill="#fff" stroke="#ff0000" stroke-width="1.1"/>
<circle cx="226.8" cy="382.5" r="2.25" fill="#fff" stroke="#ff0000" stroke-width="1.1"/>
<circle cx="246.6" cy="362.4" r="2.25" fill="#fff" stroke="#ff0000" stroke-width="1.1"/>
<circle cx="265.8" cy="341.3" r="2.25" fill="#fff" stroke="#ff0000" stroke-width="1.1"/>
<polyline points="100.3,500.7 102.47,499.09 104.63,497.47 106.94,496.08 109.27,494.72 111.66,493.46 114.07,492.23 116.44,490.95 118.61,489.35 120.79,487.76 122.77,485.92 124.73,484.07 126.69,482.22 128.71,480.41 130.72,478.61 132.61,476.69 134.44,474.7 136.26,472.72 138.12,470.76 140,468.82 141.6,466.68 142.88,464.3 144.16,461.92 145.5,459.58 146.87,457.25 148.24,454.92 149.58,452.58 150.91,450.23 152.23,447.88 155.9,439.2 160.3,430.4 164.7,419.9 170,407.6 176.1,393 183,375.8 191.1,355.3 199.3,331.2 209.3,302.4 218,276" fill="none" stroke="#058080" stroke-width="1.7" stroke-linejoin="round" stroke-linecap="round"/>
<circle cx="100.3" cy="500.7" r="2.25" fill="#fff" stroke="#058080" stroke-width="1.1"/>
<circle cx="102.47" cy="499.09" r="2.25" fill="#fff" stroke="#058080" stroke-width="1.1"/>
<circle cx="104.63" cy="497.47" r="2.25" fill="#fff" stroke="#058080" stroke-width="1.1"/>
<circle cx="106.94" cy="496.08" r="2.25" fill="#fff" stroke="#058080" stroke-width="1.1"/>
<circle cx="109.27" cy="494.72" r="2.25" fill="#fff" stroke="#058080" stroke-width="1.1"/>
<circle cx="111.66" cy="493.46" r="2.25" fill="#fff" stroke="#058080" stroke-width="1.1"/>
<circle cx="114.07" cy="492.23" r="2.25" fill="#fff" stroke="#058080" stroke-width="1.1"/>
<circle cx="116.44" cy="490.95" r="2.25" fill="#fff" stroke="#058080" stroke-width="1.1"/>
<circle cx="118.61" cy="489.35" r="2.25" fill="#fff" stroke="#058080" stroke-width="1.1"/>
<circle cx="120.79" cy="487.76" r="2.25" fill="#fff" stroke="#058080" stroke-width="1.1"/>
<circle cx="122.77" cy="485.92" r="2.25" fill="#fff" stroke="#058080" stroke-width="1.1"/>
<circle cx="124.73" cy="484.07" r="2.25" fill="#fff" stroke="#058080" stroke-width="1.1"/>
<circle cx="126.69" cy="482.22" r="2.25" fill="#fff" stroke="#058080" stroke-width="1.1"/>
<circle cx="128.71" cy="480.41" r="2.25" fill="#fff" stroke="#058080" stroke-width="1.1"/>
<circle cx="130.72" cy="478.61" r="2.25" fill="#fff" stroke="#058080" stroke-width="1.1"/>
<circle cx="132.61" cy="476.69" r="2.25" fill="#fff" stroke="#058080" stroke-width="1.1"/>
<circle cx="134.44" cy="474.7" r="2.25" fill="#fff" stroke="#058080" stroke-width="1.1"/>
<circle cx="136.26" cy="472.72" r="2.25" fill="#fff" stroke="#058080" stroke-width="1.1"/>
<circle cx="138.12" cy="470.76" r="2.25" fill="#fff" stroke="#058080" stroke-width="1.1"/>
<circle cx="140" cy="468.82" r="2.25" fill="#fff" stroke="#058080" stroke-width="1.1"/>
<circle cx="141.6" cy="466.68" r="2.25" fill="#fff" stroke="#058080" stroke-width="1.1"/>
<circle cx="142.88" cy="464.3" r="2.25" fill="#fff" stroke="#058080" stroke-width="1.1"/>
<circle cx="144.16" cy="461.92" r="2.25" fill="#fff" stroke="#058080" stroke-width="1.1"/>
<circle cx="145.5" cy="459.58" r="2.25" fill="#fff" stroke="#058080" stroke-width="1.1"/>
<circle cx="146.87" cy="457.25" r="2.25" fill="#fff" stroke="#058080" stroke-width="1.1"/>
<circle cx="148.24" cy="454.92" r="2.25" fill="#fff" stroke="#058080" stroke-width="1.1"/>
<circle cx="149.58" cy="452.58" r="2.25" fill="#fff" stroke="#058080" stroke-width="1.1"/>
<circle cx="150.91" cy="450.23" r="2.25" fill="#fff" stroke="#058080" stroke-width="1.1"/>
<circle cx="152.23" cy="447.88" r="2.25" fill="#fff" stroke="#058080" stroke-width="1.1"/>
<circle cx="155.9" cy="439.2" r="2.25" fill="#fff" stroke="#058080" stroke-width="1.1"/>
<circle cx="160.3" cy="430.4" r="2.25" fill="#fff" stroke="#058080" stroke-width="1.1"/>
<circle cx="164.7" cy="419.9" r="2.25" fill="#fff" stroke="#058080" stroke-width="1.1"/>
<circle cx="170" cy="407.6" r="2.25" fill="#fff" stroke="#058080" stroke-width="1.1"/>
<circle cx="176.1" cy="393" r="2.25" fill="#fff" stroke="#058080" stroke-width="1.1"/>
<circle cx="183" cy="375.8" r="2.25" fill="#fff" stroke="#058080" stroke-width="1.1"/>
<circle cx="191.1" cy="355.3" r="2.25" fill="#fff" stroke="#058080" stroke-width="1.1"/>
<circle cx="199.3" cy="331.2" r="2.25" fill="#fff" stroke="#058080" stroke-width="1.1"/>
<circle cx="209.3" cy="302.4" r="2.25" fill="#fff" stroke="#058080" stroke-width="1.1"/>
</g>
<rect x="44.3" y="280.8" width="227.5" height="221.2" fill="none" stroke="#000" stroke-width="2.3"/>
<polygon points="73.5,282.4 77.5,282.4 79.2,279.2 75.2,279.2" fill="#fff"/>
<line x1="72.3" y1="285" x2="76.3" y2="276.6" stroke="#000" stroke-width="2.1"/>
<line x1="76.6" y1="285" x2="80.6" y2="276.6" stroke="#000" stroke-width="2.1"/>
<polygon points="73.5,503.6 77.5,503.6 79.2,500.4 75.2,500.4" fill="#fff"/>
<line x1="72.3" y1="506.2" x2="76.3" y2="497.8" stroke="#000" stroke-width="2.1"/>
<line x1="76.6" y1="506.2" x2="80.6" y2="497.8" stroke="#000" stroke-width="2.1"/>
<line x1="44.3" y1="502" x2="44.3" y2="506.55" stroke="#000" stroke-width="2.3"/>
<text x="44.3" y="518.3" font-size="10.7" text-anchor="middle" font-weight="normal" fill="#000">0</text>
<line x1="85.17" y1="502" x2="85.17" y2="504.45" stroke="#000" stroke-width="2.3"/>
<line x1="122.5" y1="502" x2="122.5" y2="506.55" stroke="#000" stroke-width="2.3"/>
<text x="122.5" y="518.3" font-size="10.7" text-anchor="middle" font-weight="normal" fill="#000">10</text>
<line x1="159.82" y1="502" x2="159.82" y2="504.45" stroke="#000" stroke-width="2.3"/>
<line x1="197.15" y1="502" x2="197.15" y2="506.55" stroke="#000" stroke-width="2.3"/>
<text x="197.15" y="518.3" font-size="10.7" text-anchor="middle" font-weight="normal" fill="#000">15</text>
<line x1="234.47" y1="502" x2="234.47" y2="504.45" stroke="#000" stroke-width="2.3"/>
<line x1="271.8" y1="502" x2="271.8" y2="506.55" stroke="#000" stroke-width="2.3"/>
<text x="271.8" y="518.3" font-size="10.7" text-anchor="middle" font-weight="normal" fill="#000">20</text>
<line x1="44.3" y1="502" x2="39.75" y2="502" stroke="#000" stroke-width="2.3"/>
<text x="37.3" y="505.7" font-size="10.7" text-anchor="end" font-weight="normal" fill="#000">0</text>
<line x1="44.3" y1="465.13" x2="41.85" y2="465.13" stroke="#000" stroke-width="2.3"/>
<line x1="44.3" y1="428.27" x2="39.75" y2="428.27" stroke="#000" stroke-width="2.3"/>
<text x="37.3" y="431.97" font-size="10.7" text-anchor="end" font-weight="normal" fill="#000">5</text>
<line x1="44.3" y1="391.4" x2="41.85" y2="391.4" stroke="#000" stroke-width="2.3"/>
<line x1="44.3" y1="354.53" x2="39.75" y2="354.53" stroke="#000" stroke-width="2.3"/>
<text x="37.3" y="358.23" font-size="10.7" text-anchor="end" font-weight="normal" fill="#000">10</text>
<line x1="44.3" y1="317.67" x2="41.85" y2="317.67" stroke="#000" stroke-width="2.3"/>
<line x1="44.3" y1="280.8" x2="39.75" y2="280.8" stroke="#000" stroke-width="2.3"/>
<text x="37.3" y="284.5" font-size="10.7" text-anchor="end" font-weight="normal" fill="#000">15</text>
<text x="158.05" y="539.5" font-size="14" text-anchor="middle" font-weight="normal" fill="#000">Z' / ohm</text>
<text transform="translate(20.3,391.4) rotate(-90)" font-size="14" text-anchor="middle">-Z&quot; / ohm</text>
<text x="50" y="306.5" font-size="38" text-anchor="start" font-weight="bold" fill="#000">c</text>
<line x1="48.9" y1="318.6" x2="78.4" y2="318.6" stroke="#0a0a8c" stroke-width="2"/>
<circle cx="63.7" cy="318.6" r="2.2" fill="#fff" stroke="#0a0a8c" stroke-width="1"/>
<text x="81.8" y="323.2" font-size="12.7" text-anchor="start" font-weight="bold" fill="#000">Co@CCNS-600</text>
<line x1="48.9" y1="334.6" x2="78.4" y2="334.6" stroke="#ff0000" stroke-width="2"/>
<circle cx="63.7" cy="334.6" r="2.2" fill="#fff" stroke="#ff0000" stroke-width="1"/>
<text x="81.8" y="339.2" font-size="12.7" text-anchor="start" font-weight="bold" fill="#000">Co@CCNS-700</text>
<line x1="48.9" y1="351.4" x2="78.4" y2="351.4" stroke="#058080" stroke-width="2"/>
<circle cx="63.7" cy="351.4" r="2.2" fill="#fff" stroke="#058080" stroke-width="1"/>
<text x="81.8" y="356" font-size="12.7" text-anchor="start" font-weight="bold" fill="#000">Co@CCNS-800</text>
<rect x="332.2" y="280.9" width="227.5" height="220.9" fill="none" stroke="#000" stroke-width="2.3"/>
<line x1="332.2" y1="501.8" x2="332.2" y2="506.35" stroke="#000" stroke-width="2.3"/>
<text x="332.2" y="518.1" font-size="10.7" text-anchor="middle" font-weight="normal" fill="#000">0</text>
<line x1="348.45" y1="501.8" x2="348.45" y2="504.25" stroke="#000" stroke-width="2.3"/>
<line x1="364.7" y1="501.8" x2="364.7" y2="506.35" stroke="#000" stroke-width="2.3"/>
<text x="364.7" y="518.1" font-size="10.7" text-anchor="middle" font-weight="normal" fill="#000">10</text>
<line x1="380.95" y1="501.8" x2="380.95" y2="504.25" stroke="#000" stroke-width="2.3"/>
<line x1="397.2" y1="501.8" x2="397.2" y2="506.35" stroke="#000" stroke-width="2.3"/>
<text x="397.2" y="518.1" font-size="10.7" text-anchor="middle" font-weight="normal" fill="#000">20</text>
<line x1="413.45" y1="501.8" x2="413.45" y2="504.25" stroke="#000" stroke-width="2.3"/>
<line x1="429.7" y1="501.8" x2="429.7" y2="506.35" stroke="#000" stroke-width="2.3"/>
<text x="429.7" y="518.1" font-size="10.7" text-anchor="middle" font-weight="normal" fill="#000">30</text>
<line x1="445.95" y1="501.8" x2="445.95" y2="504.25" stroke="#000" stroke-width="2.3"/>
<line x1="462.2" y1="501.8" x2="462.2" y2="506.35" stroke="#000" stroke-width="2.3"/>
<text x="462.2" y="518.1" font-size="10.7" text-anchor="middle" font-weight="normal" fill="#000">40</text>
<line x1="478.45" y1="501.8" x2="478.45" y2="504.25" stroke="#000" stroke-width="2.3"/>
<line x1="494.7" y1="501.8" x2="494.7" y2="506.35" stroke="#000" stroke-width="2.3"/>
<text x="494.7" y="518.1" font-size="10.7" text-anchor="middle" font-weight="normal" fill="#000">50</text>
<line x1="510.95" y1="501.8" x2="510.95" y2="504.25" stroke="#000" stroke-width="2.3"/>
<line x1="527.2" y1="501.8" x2="527.2" y2="506.35" stroke="#000" stroke-width="2.3"/>
<text x="527.2" y="518.1" font-size="10.7" text-anchor="middle" font-weight="normal" fill="#000">60</text>
<line x1="543.45" y1="501.8" x2="543.45" y2="504.25" stroke="#000" stroke-width="2.3"/>
<line x1="559.7" y1="501.8" x2="559.7" y2="506.35" stroke="#000" stroke-width="2.3"/>
<text x="559.7" y="518.1" font-size="10.7" text-anchor="middle" font-weight="normal" fill="#000">70</text>
<line x1="332.2" y1="501.8" x2="327.65" y2="501.8" stroke="#000" stroke-width="2.3"/>
<text x="325.2" y="505.5" font-size="10.7" text-anchor="end" font-weight="normal" fill="#000">0</text>
<line x1="332.2" y1="474.19" x2="329.75" y2="474.19" stroke="#000" stroke-width="2.3"/>
<line x1="332.2" y1="446.57" x2="327.65" y2="446.57" stroke="#000" stroke-width="2.3"/>
<text x="325.2" y="450.27" font-size="10.7" text-anchor="end" font-weight="normal" fill="#000">5</text>
<line x1="332.2" y1="418.96" x2="329.75" y2="418.96" stroke="#000" stroke-width="2.3"/>
<line x1="332.2" y1="391.35" x2="327.65" y2="391.35" stroke="#000" stroke-width="2.3"/>
<text x="325.2" y="395.05" font-size="10.7" text-anchor="end" font-weight="normal" fill="#000">10</text>
<line x1="332.2" y1="363.74" x2="329.75" y2="363.74" stroke="#000" stroke-width="2.3"/>
<line x1="332.2" y1="336.12" x2="327.65" y2="336.12" stroke="#000" stroke-width="2.3"/>
<text x="325.2" y="339.82" font-size="10.7" text-anchor="end" font-weight="normal" fill="#000">15</text>
<line x1="332.2" y1="308.51" x2="329.75" y2="308.51" stroke="#000" stroke-width="2.3"/>
<line x1="332.2" y1="280.9" x2="327.65" y2="280.9" stroke="#000" stroke-width="2.3"/>
<text x="325.2" y="284.6" font-size="10.7" text-anchor="end" font-weight="normal" fill="#000">20</text>
<text x="445.95" y="540" font-size="14" text-anchor="middle" font-weight="normal" fill="#000">Scan Rate / mV s<tspan font-size="9" dy="-5">-1</tspan></text>
<text transform="translate(308.8,391) rotate(-90)" font-size="14" text-anchor="middle">Current Density / mA cm<tspan font-size="9" dy="-5">-2</tspan></text>
<polyline points="364.7,459.17 397.2,428.13 429.7,399.52 462.2,370.59 494.7,343.53 527.2,316.24" fill="none" stroke="#ff0000" stroke-width="1.7" stroke-linejoin="round" stroke-linecap="round"/>
<polyline points="364.7,471.8 527.2,393.5" fill="none" stroke="#0a0a8c" stroke-width="1.7" stroke-linejoin="round" stroke-linecap="round"/>
<polyline points="364.7,487.66 397.2,477.83 429.7,466.79 462.2,455.63 494.7,445.47 527.2,434.54" fill="none" stroke="#058080" stroke-width="1.7" stroke-linejoin="round" stroke-linecap="round"/>
<polyline points="364.7,497.82 397.2,495.17 429.7,492.08 462.2,489.43 494.7,487 527.2,484.68" fill="none" stroke="#000" stroke-width="1.7" stroke-linejoin="round" stroke-linecap="round"/>
<text transform="translate(408,408) rotate(-40)" font-size="14" font-weight="bold" fill="#ff0000">25.8 mF cm<tspan font-size="10" dy="-6">-2</tspan></text>
<text transform="translate(429.5,430.5) rotate(-24.5)" font-size="14" font-weight="bold" fill="#0a0a8c">14.2 mF cm<tspan font-size="10" dy="-6">-2</tspan></text>
<text transform="translate(441.5,455) rotate(-18)" font-size="14" font-weight="bold" fill="#058080">9.6 mF cm<tspan font-size="10" dy="-6">-2</tspan></text>
<text transform="translate(451.5,485) rotate(-5)" font-size="14" font-weight="bold" fill="#000">2.4 mF cm<tspan font-size="10" dy="-6">-2</tspan></text>
<rect x="361.2" y="455.67" width="7.0" height="7.0" fill="#fff" stroke="#ff0000" stroke-width="1.25"/>
<rect x="393.7" y="424.63" width="7.0" height="7.0" fill="#fff" stroke="#ff0000" stroke-width="1.25"/>
<rect x="426.2" y="396.02" width="7.0" height="7.0" fill="#fff" stroke="#ff0000" stroke-width="1.25"/>
<rect x="458.7" y="367.09" width="7.0" height="7.0" fill="#fff" stroke="#ff0000" stroke-width="1.25"/>
<rect x="491.2" y="340.03" width="7.0" height="7.0" fill="#fff" stroke="#ff0000" stroke-width="1.25"/>
<rect x="523.7" y="312.74" width="7.0" height="7.0" fill="#fff" stroke="#ff0000" stroke-width="1.25"/>
<rect x="361.2" y="472.01" width="7.0" height="7.0" fill="#fff" stroke="#0a0a8c" stroke-width="1.25"/>
<rect x="393.7" y="451.69" width="7.0" height="7.0" fill="#fff" stroke="#0a0a8c" stroke-width="1.25"/>
<rect x="426.2" y="433.36" width="7.0" height="7.0" fill="#fff" stroke="#0a0a8c" stroke-width="1.25"/>
<rect x="458.7" y="416.24" width="7.0" height="7.0" fill="#fff" stroke="#0a0a8c" stroke-width="1.25"/>
<rect x="491.2" y="403.09" width="7.0" height="7.0" fill="#fff" stroke="#0a0a8c" stroke-width="1.25"/>
<rect x="523.7" y="395.14" width="7.0" height="7.0" fill="#fff" stroke="#0a0a8c" stroke-width="1.25"/>
<rect x="361.2" y="484.16" width="7.0" height="7.0" fill="#fff" stroke="#058080" stroke-width="1.25"/>
<rect x="393.7" y="474.33" width="7.0" height="7.0" fill="#fff" stroke="#058080" stroke-width="1.25"/>
<rect x="426.2" y="463.29" width="7.0" height="7.0" fill="#fff" stroke="#058080" stroke-width="1.25"/>
<rect x="458.7" y="452.13" width="7.0" height="7.0" fill="#fff" stroke="#058080" stroke-width="1.25"/>
<rect x="491.2" y="441.97" width="7.0" height="7.0" fill="#fff" stroke="#058080" stroke-width="1.25"/>
<rect x="523.7" y="431.04" width="7.0" height="7.0" fill="#fff" stroke="#058080" stroke-width="1.25"/>
<rect x="361.2" y="494.32" width="7.0" height="7.0" fill="#fff" stroke="#000" stroke-width="1.25"/>
<rect x="393.7" y="491.67" width="7.0" height="7.0" fill="#fff" stroke="#000" stroke-width="1.25"/>
<rect x="426.2" y="488.58" width="7.0" height="7.0" fill="#fff" stroke="#000" stroke-width="1.25"/>
<rect x="458.7" y="485.93" width="7.0" height="7.0" fill="#fff" stroke="#000" stroke-width="1.25"/>
<rect x="491.2" y="483.5" width="7.0" height="7.0" fill="#fff" stroke="#000" stroke-width="1.25"/>
<rect x="523.7" y="481.18" width="7.0" height="7.0" fill="#fff" stroke="#000" stroke-width="1.25"/>
<text x="339.5" y="316" font-size="38" text-anchor="start" font-weight="bold" fill="#000">d</text>
<line x1="359.2" y1="291.9" x2="389.5" y2="291.9" stroke="#000" stroke-width="2"/>
<text x="392.3" y="296.5" font-size="12.7" text-anchor="start" font-weight="bold" fill="#000">Pt/C</text>
<line x1="359.2" y1="308.5" x2="389.5" y2="308.5" stroke="#0a0a8c" stroke-width="2"/>
<text x="392.3" y="313.1" font-size="12.7" text-anchor="start" font-weight="bold" fill="#000">Co@CCNS-600</text>
<line x1="359.2" y1="325.3" x2="389.5" y2="325.3" stroke="#ff0000" stroke-width="2"/>
<text x="392.3" y="329.9" font-size="12.7" text-anchor="start" font-weight="bold" fill="#000">Co@CCNS-700</text>
<line x1="359.2" y1="341.2" x2="389.5" y2="341.2" stroke="#058080" stroke-width="2"/>
<text x="392.3" y="345.8" font-size="12.7" text-anchor="start" font-weight="bold" fill="#000">Co@CCNS-800</text>
<polyline points="44.6,620.8 45.9,616.6 48.4,614.9 54.8,615.1 65.3,616.6 73.7,616.6 82.2,617.7 92.7,619.3 103.3,620.2 124.4,621.9 145.4,623.1 160,623.4 195.1,624.1 230.3,625.1 265.4,625.8 300.6,626.5 335.7,626.2 360,627.2 396,628.4 432,627.7 468,628.4 504,630.5 540.1,632 558.8,632.7" fill="none" stroke="#ff0000" stroke-width="1.7" stroke-linejoin="round" stroke-linecap="round"/>
<rect x="44.4" y="556.3" width="515.3" height="136.8" fill="none" stroke="#000" stroke-width="2.3"/>
<line x1="44.4" y1="693.1" x2="44.4" y2="697.65" stroke="#000" stroke-width="2.3"/>
<text x="44.4" y="709.4" font-size="10.7" text-anchor="middle" font-weight="normal" fill="#000">0</text>
<line x1="95.93" y1="693.1" x2="95.93" y2="695.55" stroke="#000" stroke-width="2.3"/>
<line x1="147.46" y1="693.1" x2="147.46" y2="697.65" stroke="#000" stroke-width="2.3"/>
<text x="147.46" y="709.4" font-size="10.7" text-anchor="middle" font-weight="normal" fill="#000">20</text>
<line x1="198.99" y1="693.1" x2="198.99" y2="695.55" stroke="#000" stroke-width="2.3"/>
<line x1="250.52" y1="693.1" x2="250.52" y2="697.65" stroke="#000" stroke-width="2.3"/>
<text x="250.52" y="709.4" font-size="10.7" text-anchor="middle" font-weight="normal" fill="#000">40</text>
<line x1="302.05" y1="693.1" x2="302.05" y2="695.55" stroke="#000" stroke-width="2.3"/>
<line x1="353.58" y1="693.1" x2="353.58" y2="697.65" stroke="#000" stroke-width="2.3"/>
<text x="353.58" y="709.4" font-size="10.7" text-anchor="middle" font-weight="normal" fill="#000">60</text>
<line x1="405.11" y1="693.1" x2="405.11" y2="695.55" stroke="#000" stroke-width="2.3"/>
<line x1="456.64" y1="693.1" x2="456.64" y2="697.65" stroke="#000" stroke-width="2.3"/>
<text x="456.64" y="709.4" font-size="10.7" text-anchor="middle" font-weight="normal" fill="#000">80</text>
<line x1="508.17" y1="693.1" x2="508.17" y2="695.55" stroke="#000" stroke-width="2.3"/>
<line x1="559.7" y1="693.1" x2="559.7" y2="697.65" stroke="#000" stroke-width="2.3"/>
<text x="559.7" y="709.4" font-size="10.7" text-anchor="middle" font-weight="normal" fill="#000">100</text>
<line x1="44.4" y1="693.1" x2="39.85" y2="693.1" stroke="#000" stroke-width="2.3"/>
<text x="37.4" y="696.8" font-size="10.7" text-anchor="end" font-weight="normal" fill="#000">-0.3</text>
<line x1="44.4" y1="676" x2="41.95" y2="676" stroke="#000" stroke-width="2.3"/>
<line x1="44.4" y1="658.9" x2="39.85" y2="658.9" stroke="#000" stroke-width="2.3"/>
<text x="37.4" y="662.6" font-size="10.7" text-anchor="end" font-weight="normal" fill="#000">-0.2</text>
<line x1="44.4" y1="641.8" x2="41.95" y2="641.8" stroke="#000" stroke-width="2.3"/>
<line x1="44.4" y1="624.7" x2="39.85" y2="624.7" stroke="#000" stroke-width="2.3"/>
<text x="37.4" y="628.4" font-size="10.7" text-anchor="end" font-weight="normal" fill="#000">-0.1</text>
<line x1="44.4" y1="607.6" x2="41.95" y2="607.6" stroke="#000" stroke-width="2.3"/>
<line x1="44.4" y1="590.5" x2="39.85" y2="590.5" stroke="#000" stroke-width="2.3"/>
<text x="37.4" y="594.2" font-size="10.7" text-anchor="end" font-weight="normal" fill="#000">0.0</text>
<line x1="44.4" y1="573.4" x2="41.95" y2="573.4" stroke="#000" stroke-width="2.3"/>
<line x1="44.4" y1="556.3" x2="39.85" y2="556.3" stroke="#000" stroke-width="2.3"/>
<text x="37.4" y="560" font-size="10.7" text-anchor="end" font-weight="normal" fill="#000">0.1</text>
<text x="302.05" y="729" font-size="14" text-anchor="middle" font-weight="normal" fill="#000">Time / hour</text>
<text transform="translate(20.5,620.8) rotate(-90)" font-size="14" text-anchor="middle">Potential / V</text>
<text x="51.5" y="587" font-size="38" text-anchor="start" font-weight="bold" fill="#000">e</text>
<line x1="78" y1="577.8" x2="106.8" y2="577.8" stroke="#ff0000" stroke-width="2"/>
<text x="109.8" y="582.4" font-size="12.7" text-anchor="start" font-weight="bold" fill="#000">Co@CCNS-700</text>
</svg></body></html>
